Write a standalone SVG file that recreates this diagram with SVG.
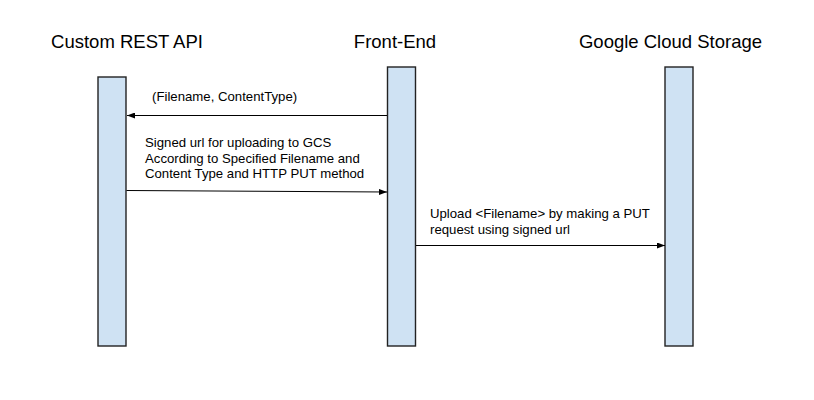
<svg xmlns="http://www.w3.org/2000/svg" width="814" height="400" viewBox="0 0 814 400">
<style>
.title{font-family:"Liberation Sans",Arial,sans-serif;font-size:18.5px;fill:#000}
.lbl{font-family:"Liberation Sans",Arial,sans-serif;font-size:13.2px;fill:#000}
.bar{fill:#cfe2f3;stroke:#222;stroke-width:1.4}
.conn{stroke:#000;stroke-width:1;fill:none}
</style>
<defs>
<marker id="ah" viewBox="0 0 8 6" refX="8" refY="3" markerWidth="8" markerHeight="6" markerUnits="userSpaceOnUse" orient="auto">
<path d="M0,0 L8,3 L0,6 z" fill="#000"/>
</marker>
</defs>
<rect width="814" height="400" fill="#fff"/>
<g id="custom-rest-api">
<text class="title" x="127" y="48" text-anchor="middle">Custom REST API</text>
<rect class="bar" x="98" y="77" width="28" height="269"/>
</g>
<g id="front-end">
<text class="title" x="395" y="48" text-anchor="middle">Front-End</text>
<rect class="bar" x="387.5" y="67" width="28" height="279"/>
</g>
<g id="google-cloud-storage">
<text class="title" x="670.5" y="48" text-anchor="middle">Google Cloud Storage</text>
<rect class="bar" x="665" y="67" width="28" height="279"/>
</g>
<g id="connectors">
<line class="conn" x1="387" y1="115.5" x2="127" y2="115.5" marker-end="url(#ah)"/>
<line class="conn" x1="126.5" y1="190.5" x2="387" y2="192" marker-end="url(#ah)"/>
<line class="conn" x1="416" y1="245.5" x2="665" y2="245.5" marker-end="url(#ah)"/>
</g>
<g id="labels">
<text class="lbl" x="152" y="101">(Filename, ContentType)</text>
<text class="lbl" x="145" y="147">Signed url for uploading to GCS</text>
<text class="lbl" x="145" y="162.5">According to Specified Filename and</text>
<text class="lbl" x="145" y="178">Content Type and HTTP PUT method</text>
<text class="lbl" x="430" y="218">Upload &lt;Filename&gt; by making a PUT</text>
<text class="lbl" x="430" y="234">request using signed url</text>
</g>
</svg>
